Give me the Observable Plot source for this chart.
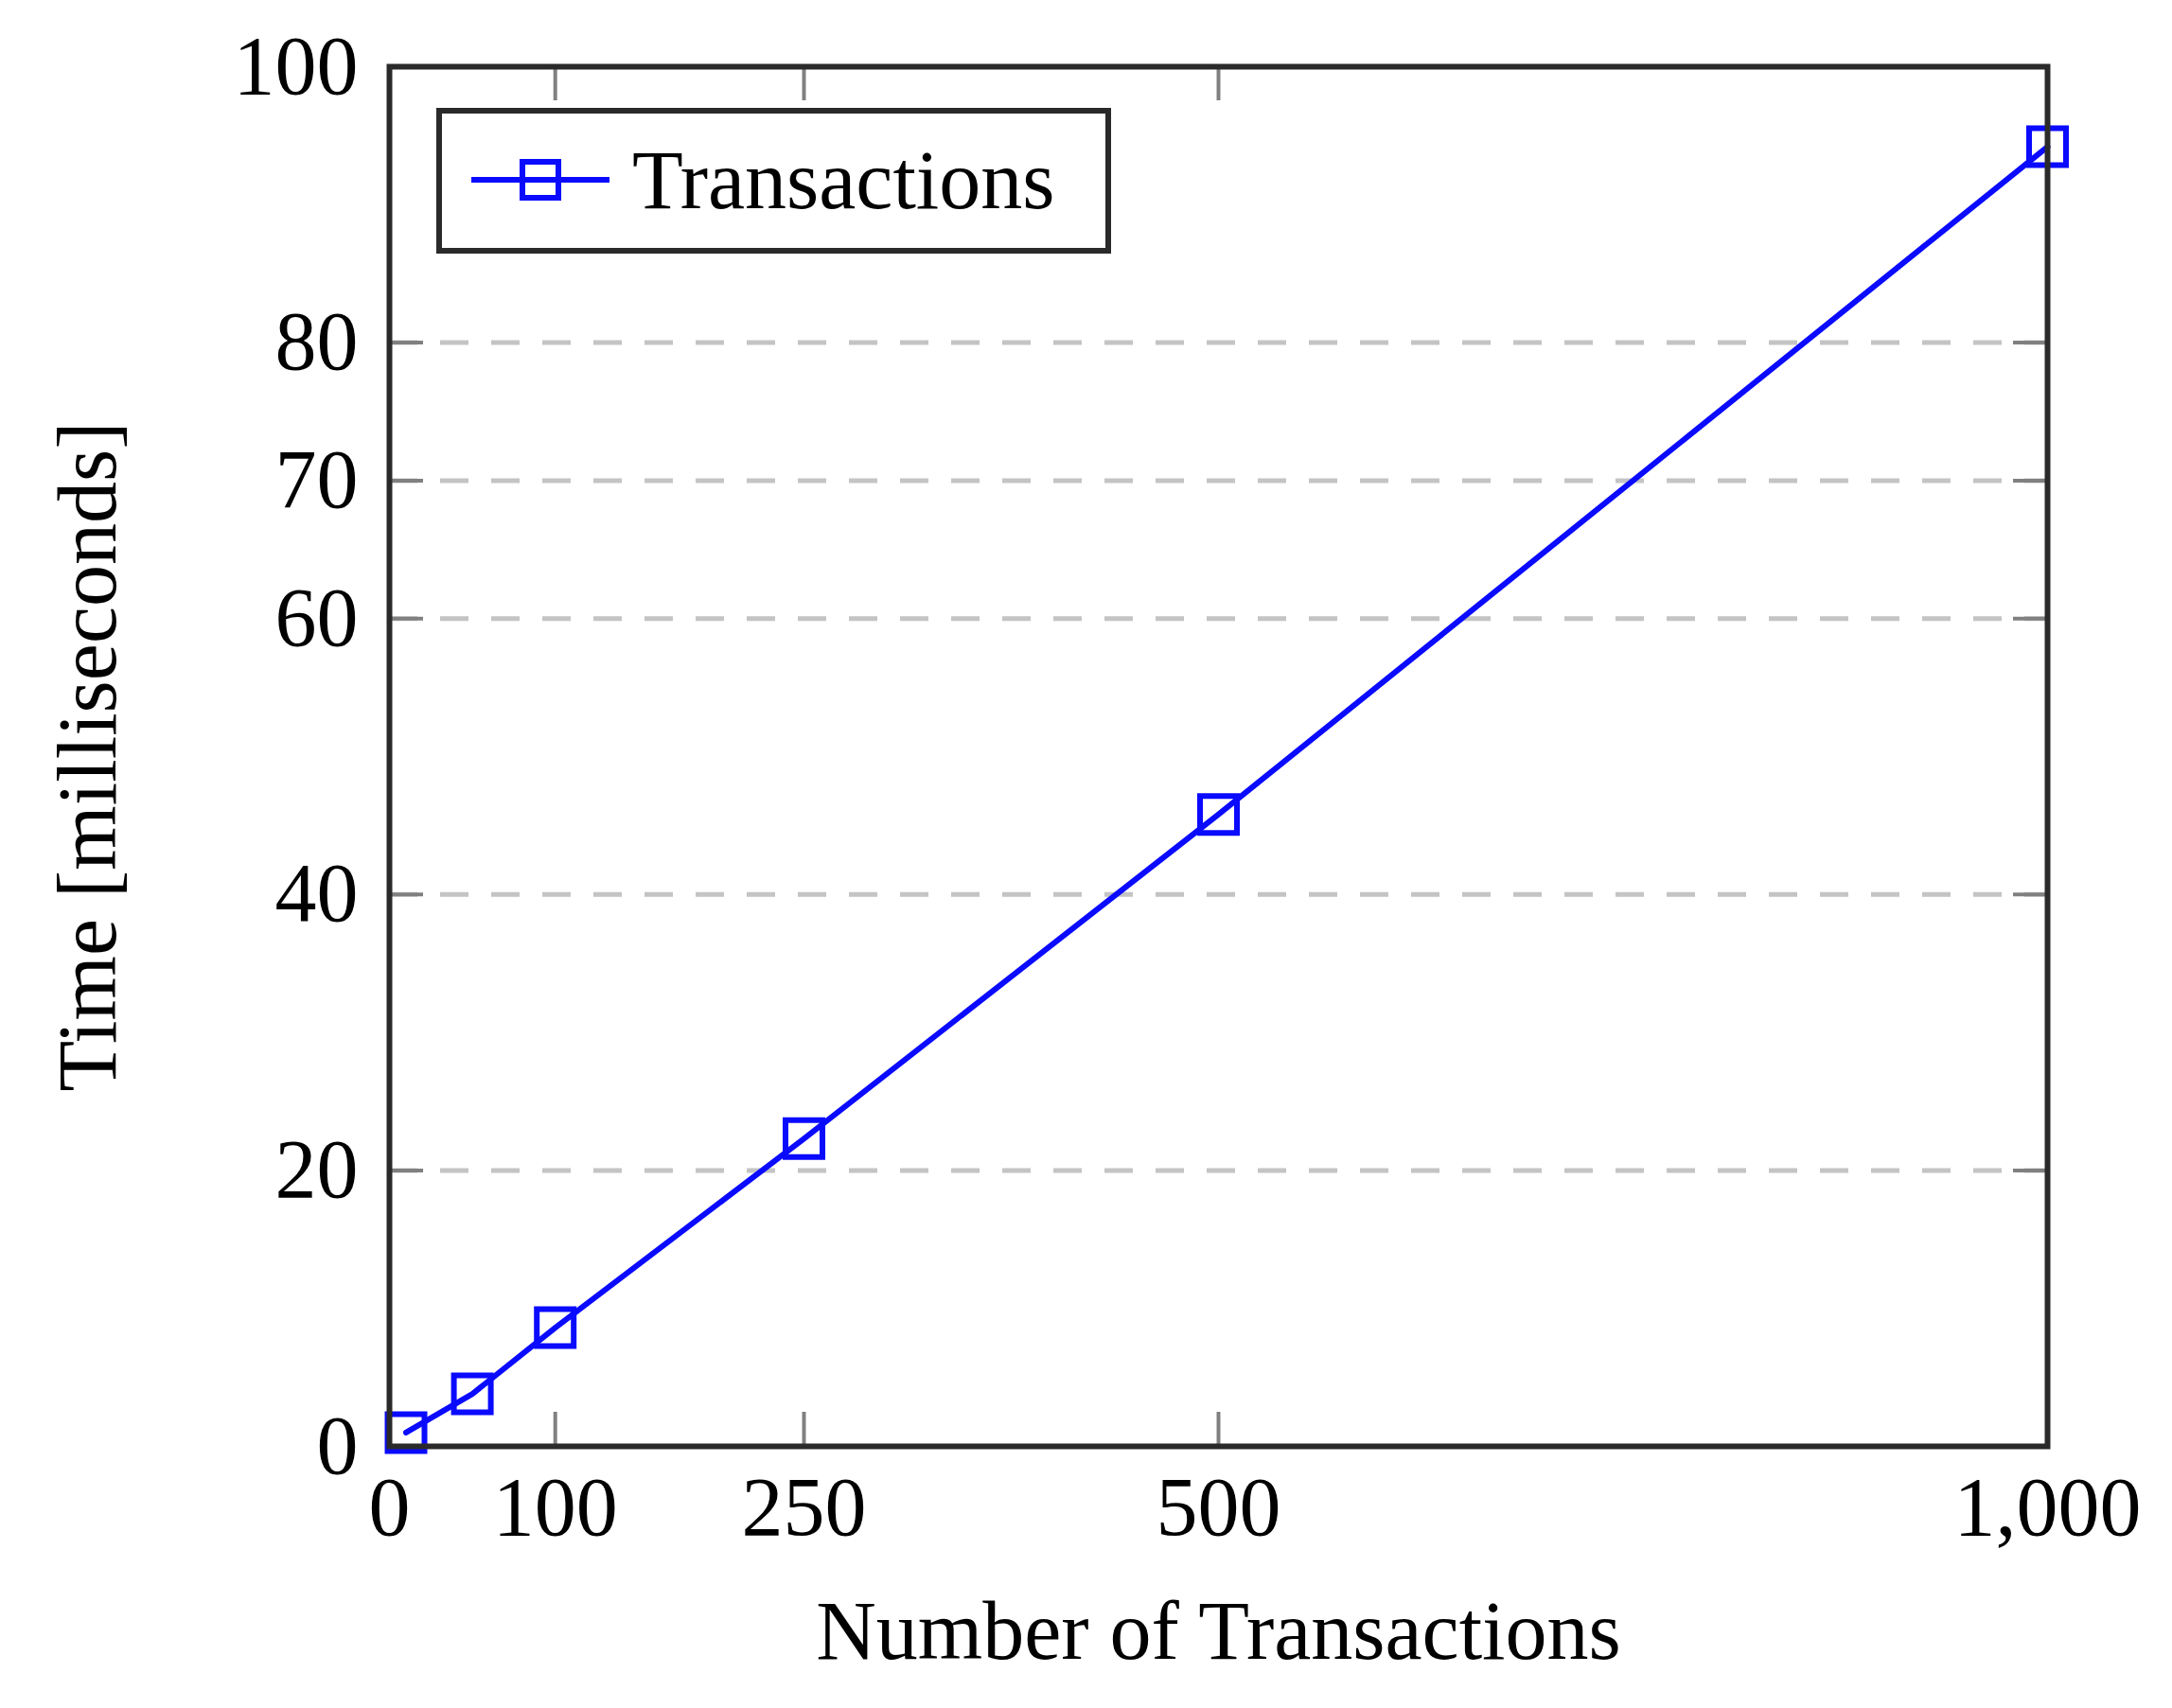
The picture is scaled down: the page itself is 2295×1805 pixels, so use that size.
<!DOCTYPE html>
<html>
<head>
<meta charset="utf-8">
<script src="https://cdn.jsdelivr.net/npm/d3@7"></script>
<script src="https://cdn.jsdelivr.net/npm/@observablehq/plot@0.6"></script>
<style>
  html, body { margin: 0; padding: 0; background: #fff; }
  #chart { width: 2295px; height: 1805px; }
</style>
</head>
<body>
<div id="chart"></div>
<script>
// ---- data ----
const transactions = [10, 50, 100, 250, 500, 1000];
const timeMs = [1.0, 3.8, 8.6, 22.3, 45.8, 94.2];
const xTicks = [0, 100, 250, 500, 1000];
const yTicks = [0, 20, 40, 60, 70, 80, 100];
const gridTicks = [20, 40, 60, 70, 80];
const seriesName = "Transactions";
const xLabel = "Number of Transactions";
const yLabel = "Time [milliseconds]";

const data = transactions.map((x, i) => ({x, y: timeMs[i]}));

// ---- layout ----
const W = 2295, H = 1805;
const mL = 411, mR = 132, mT = 70, mB = 277;
const plotW = W - mL - mR, plotH = H - mT - mB;
const tickLen = 36;
const font = "'Liberation Serif', 'DejaVu Serif', serif";
const blue = "#0a0aff";

const plot = Plot.plot({
  width: W, height: H,
  marginLeft: mL, marginRight: mR, marginTop: mT, marginBottom: mB,
  style: {fontFamily: font, fontSize: "88px", color: "#000", background: "#fff"},
  x: {domain: [0, 1000], ticks: xTicks, tickFormat: d3.format(","), tickSize: 0, tickPadding: 31, label: null},
  y: {domain: [0, 100], ticks: yTicks, tickSize: 0, tickPadding: 33, label: null},
  marks: [
    Plot.ruleY(gridTicks, {stroke: "#c4c4c4", strokeWidth: 5, strokeDasharray: "30,24"}),
    Plot.ruleX(xTicks, {insetTop: plotH - tickLen, stroke: "#808080", strokeWidth: 4}),
    Plot.ruleX(xTicks, {insetBottom: plotH - tickLen, stroke: "#808080", strokeWidth: 4}),
    Plot.ruleY(yTicks, {insetRight: plotW - tickLen, stroke: "#808080", strokeWidth: 4}),
    Plot.ruleY(yTicks, {insetLeft: plotW - tickLen, stroke: "#808080", strokeWidth: 4}),
    Plot.line(data, {x: "x", y: "y", stroke: blue, strokeWidth: 6}),
    Plot.dot(data, {x: "x", y: "y", symbol: "square", r: 22, stroke: blue, strokeWidth: 6, fill: "none"}),
    Plot.frame({stroke: "#2a2a2a", strokeWidth: 6}),
    Plot.text([xLabel], {text: d => d, frameAnchor: "bottom", lineAnchor: "bottom", textAnchor: "middle", dy: 224, fontSize: 88, fill: "#000"}),
    Plot.text([yLabel], {text: d => d, frameAnchor: "left", textAnchor: "middle", lineAnchor: "middle", dx: -318, rotate: -90, fontSize: 88, fill: "#000"})
  ]
});

// ---- legend (inside plot, top-left) ----
const svg = d3.select(plot);
const lg = svg.append("g").attr("class", "legend");
lg.append("rect").attr("x", 464).attr("y", 117).attr("width", 707).attr("height", 148)
  .attr("fill", "#fff").attr("stroke", "#2a2a2a").attr("stroke-width", 6);
lg.append("line").attr("x1", 498).attr("x2", 644).attr("y1", 190).attr("y2", 190)
  .attr("stroke", blue).attr("stroke-width", 6);
lg.append("rect").attr("x", 571 - 19).attr("y", 190 - 19).attr("width", 38).attr("height", 38)
  .attr("fill", "none").attr("stroke", blue).attr("stroke-width", 6);
lg.append("text").attr("x", 668).attr("y", 220).attr("font-size", 88)
  .attr("text-anchor", "start")
  .attr("font-family", font).attr("fill", "#000").text(seriesName);

document.getElementById("chart").appendChild(plot);
</script>
</body>
</html>
